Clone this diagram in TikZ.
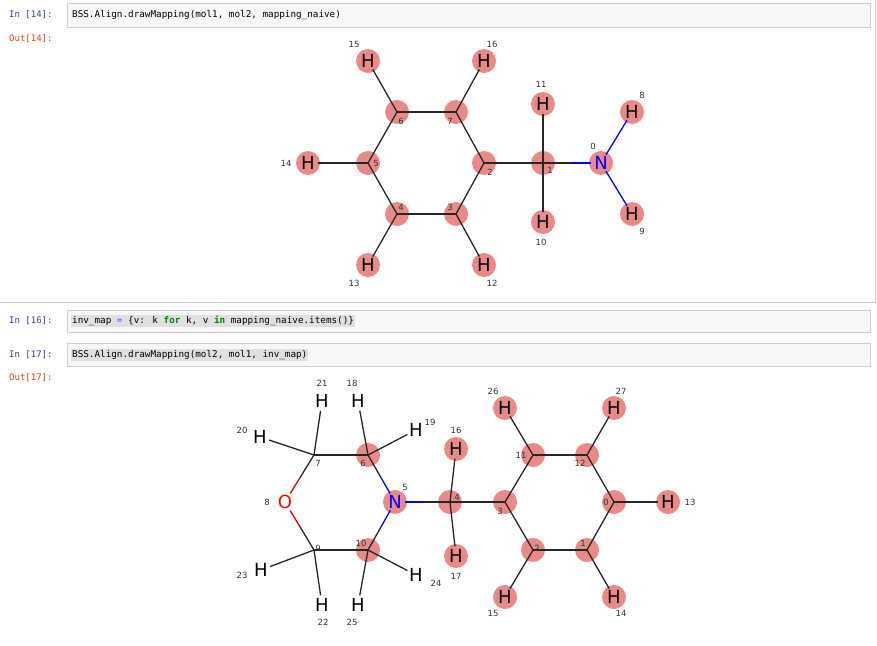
\documentclass[tikz,border=0pt]{standalone}
\usepackage{fontspec}
\setmainfont{DejaVu Sans}
\newfontfamily\codefont{DejaVu Sans Mono}
\usetikzlibrary{calc}
\definecolor{hl}{HTML}{E88A8A}
\definecolor{inblue}{HTML}{303F9F}
\definecolor{outred}{HTML}{D84315}
\definecolor{cellbg}{HTML}{F7F7F7}
\definecolor{cellbd}{HTML}{CFCFCF}
\definecolor{kwgreen}{HTML}{008000}
\definecolor{oppurple}{HTML}{AA22FF}
\tikzset{
  hc/.style={circle,inner sep=0pt,minimum size=0pt},
  het/.style={circle,inner sep=0pt,minimum size=19pt,font=\fontsize{18}{18}\selectfont},
  lab/.style={inner sep=0pt,font=\fontsize{8.5}{9}\selectfont,text=black!80},
  bond/.style={line width=1.3pt,black!85},
  nb/.style={line width=1.3pt,blue},
  ob/.style={line width=1.3pt,red!85!black},
  cellbox/.style={fill=cellbg,draw=cellbd,line width=0.6pt},
  prompt/.style={anchor=west,inner sep=0pt,font=\codefont\fontsize{9}{9}\selectfont},
  code/.style={anchor=west,inner sep=0pt,font=\codefont\fontsize{9.3}{9}\selectfont}
}
\newcommand{\hlc}[1]{\fill[hl] (#1) circle (12pt);}
\begin{document}
\begin{tikzpicture}[x=1pt,y=-1pt]
\useasboundingbox (0,0) rectangle (877,645);
% notebook chrome
\draw[cellbd,line width=0.6pt] (0,302) -- (875,302) -- (875,0);
\draw[cellbox] (67,3) rectangle (870,27);
\node[prompt,text=inblue] (p14) at (9,15) {In [14]:};
\node[code] (c14) at (72,15) {BSS.Align.drawMapping(mol1, mol2, mapping\_naive)};
\node[prompt,text=outred] (o14) at (9,39) {Out[14]:};
\draw[cellbox] (67,310) rectangle (870,332);
\node[prompt,text=inblue] (p16) at (9,321) {In [16]:};
\node[code,fill=black!12,inner sep=1pt] (c16) at (71,321) {inv\_map {\color{oppurple}=} \{v: k {\bfseries\color{kwgreen}for} k, v {\bfseries\color{kwgreen}in} mapping\_naive.items()\}};
\draw[cellbox] (67,343) rectangle (870,366);
\node[prompt,text=inblue] (p17) at (9,355) {In [17]:};
\node[code,fill=black!12,inner sep=1pt] (c17) at (71,355) {BSS.Align.drawMapping(mol2, mol1, inv\_map)};
\node[prompt,text=outred] (o17) at (9,378) {Out[17]:};

% ===== top molecule =====
\foreach \n/\x/\y in {t6/397/112,t7/456/112,t5/368/163,t2/484/163,t1/543/163,t4/397/214,t3/456/214}
  \node[hc] (\n) at (\x,\y) {};
\foreach \n/\x/\y in {t15/368/61,t16/484/61,t11/543/104,t8/632/112,t14/308/163,t10/543/222,t9/632/214,t13/368/265,t12/484/265,t0/601/163}
  \coordinate (\n) at (\x,\y);
\foreach \n in {t6,t7,t5,t2,t1,t4,t3,t15,t16,t11,t8,t14,t10,t9,t13,t12,t0} {\hlc{\n}}
\foreach \n/\x/\y in {t15/368/61,t16/484/61,t11/543/104,t8/632/112,t14/308/163,t10/543/222,t9/632/214,t13/368/265,t12/484/265}
  \node[het] (h\n) at (\x,\y) {H};
\node[het,text=blue] (ht0) at (601,163) {N};
\foreach \a/\b in {ht15/t6,ht16/t7,t6/t7,t6/t5,t7/t2,t5/ht14,t5/t4,t4/t3,t3/t2,t4/ht13,t3/ht12,t2/t1,t1/ht11,t1/ht10}
  \draw[bond] (\a) -- (\b);
\coordinate (tm) at ($(t1)!0.5!(ht0)$);
\draw[bond] (t1) -- (tm);
\draw[nb] (tm) -- (ht0);
\draw[nb] (ht0) -- (ht8);
\draw[nb] (ht0) -- (ht9);
\foreach \n/\x/\y/\t in {l15/354/44/15,l16/492/44/16,l11/541/84/11,l8/642/95/8,l0/593/146/0,l14/286/163/14,l5/376/163/5,l2/490/172/2,l1/550/170/1,l6/401/121/6,l7/450/121/7,l4/401/207/4,l3/450/207/3,l10/541/242/10,l9/642/231/9,l13/354/283/13,l12/492/283/12}
  \node[lab] (t\n) at (\x,\y) {\t};

% ===== bottom molecule =====
\foreach \n/\x/\y in {b7/314/455,b6/368/455,b9/314/550,b10/368/550,b4/450/502,b3/505/502,b11/533/455,b12/587/455,b0/614/502,b2/533/550,b1/587/550}
  \node[hc] (\n) at (\x,\y) {};
\foreach \n/\x/\y in {b16/456/449,b17/456/556,b26/505/408,b27/614/408,b13/668/502,b15/505/597,b14/614/597,b5/395/502}
  \coordinate (c\n) at (\x,\y);
\foreach \n in {b6,b10,b4,b3,b11,b12,b0,b2,b1,cb16,cb17,cb26,cb27,cb13,cb15,cb14,cb5} {\hlc{\n}}
\foreach \n/\x/\y in {b21/322/401,b18/358/401,b20/260/437,b19/416/430,b23/261/570,b24/416/575,b22/322/605,b25/358/605,b16/456/449,b17/456/556,b26/505/408,b27/614/408,b13/668/502,b15/505/597,b14/614/597}
  \node[het] (h\n) at (\x,\y) {H};
\node[het,text=blue] (hb5) at (395,502) {N};
\node[het,text=red] (hb8) at (285,502) {O};
\foreach \a/\b in {b7/hb21,b7/hb20,b7/b6,b6/hb18,b6/hb19,b9/b10,b9/hb23,b9/hb22,b10/hb25,b10/hb24,b4/hb16,b4/hb17,b4/b3,b3/b11,b3/b2,b11/b12,b11/hb26,b12/b0,b12/hb27,b0/hb13,b0/b1,b1/b2,b2/hb15,b1/hb14}
  \draw[bond] (\a) -- (\b);
\foreach \c/\h/\s in {b7/hb8/ob,b9/hb8/ob,b6/hb5/nb,b10/hb5/nb,b4/hb5/nb} {
  \coordinate (m) at ($(\c)!0.5!(\h)$);
  \draw[bond] (\c) -- (m);
  \draw[\s] (m) -- (\h);
}
\foreach \n/\x/\y/\t in {l21/322/383/21,l18/352/383/18,l20/242/430/20,l19/430/422/19,l7/318/463/7,l6/363/463/6,l16/456/430/16,l26/493/391/26,l27/621/391/27,l11/521/455/11,l12/580/463/12,l8/267/502/8,l5/405/487/5,l4/457/497/4,l3/500/511/3,l0/606/502/0,l13/690/502/13,l9/318/548/9,l10/361/543/10,l2/537/548/2,l1/583/543/1,l23/242/575/23,l24/436/583/24,l22/323/622/22,l25/352/622/25,l17/456/576/17,l15/493/613/15,l14/621/613/14}
  \node[lab] (b\n) at (\x,\y) {\t};
\end{tikzpicture}
\end{document}
